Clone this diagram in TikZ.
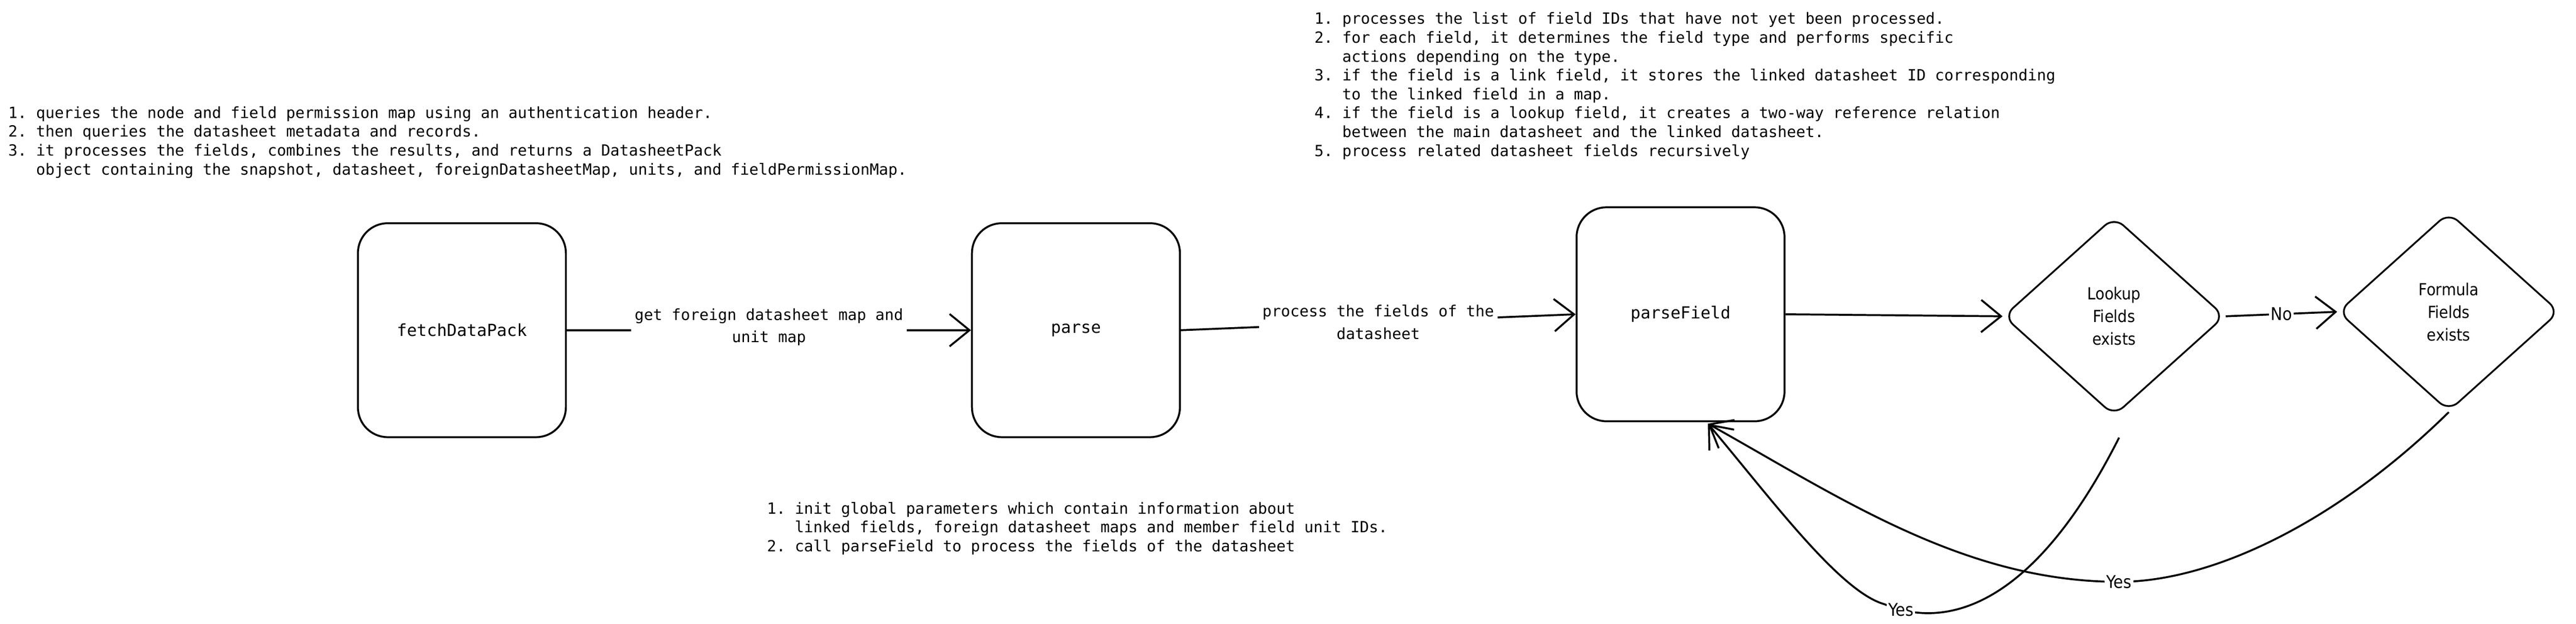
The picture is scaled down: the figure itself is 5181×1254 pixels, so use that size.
\documentclass[tikz,border=0pt]{standalone}
\usepackage{fontspec}
\setmonofont{DejaVu Sans Mono}
\newfontfamily\handfont{DejaVu Sans Condensed}
\usetikzlibrary{arrows.meta,shapes.geometric}
\begin{document}
\begin{tikzpicture}[x=0.01cm,y=-0.01cm,
  txt/.style={font=\ttfamily\fontsize{8.8}{10.8}\selectfont,align=left,anchor=north west,inner sep=0},
  box/.style={draw,line width=1.1pt,rounded corners=0.6cm,minimum width=4.18cm,minimum height=4.3cm,font=\ttfamily\fontsize{9.5}{11}\selectfont},
  dia/.style={draw,line width=1pt,diamond,rounded corners=0.25cm,shape aspect=0.55,minimum width=4.45cm,minimum height=4.0cm,inner sep=0,font=\handfont\fontsize{9.5}{13}\selectfont,align=center},
  conn/.style={line width=1.1pt,-{Straight Barb[length=0.4cm,width=0.65cm,line width=1.1pt]}},
  lbl/.style={font=\ttfamily\fontsize{8.8}{12.8}\selectfont,align=center,fill=white,inner sep=2pt},
  ylbl/.style={font=\handfont\fontsize{10}{12}\selectfont,fill=white,inner sep=1pt}]
\useasboundingbox (0,0) rectangle (5181,1254);
\node[txt] (t1) at (16,213) {1. queries the node and field permission map using an authentication header.\\2. then queries the datasheet metadata and records.\\3. it processes the fields, combines the results, and returns a DatasheetPack\\\phantom{3. }object containing the snapshot, datasheet, foreignDatasheetMap, units, and fieldPermissionMap.};
\node[txt] (t2) at (2643,24) {1. processes the list of field IDs that have not yet been processed.\\2. for each field, it determines the field type and performs specific\\\phantom{2. }actions depending on the type.\\3. if the field is a link field, it stores the linked datasheet ID corresponding\\\phantom{3. }to the linked field in a map.\\4. if the field is a lookup field, it creates a two-way reference relation\\\phantom{4. }between the main datasheet and the linked datasheet.\\5. process related datasheet fields recursively};
\node[txt] (t3) at (1542,1009) {1. init global parameters which contain information about\\\phantom{1. }linked fields, foreign datasheet maps and member field unit IDs.\\2. call parseField to process the fields of the datasheet};
\node[box] (fetch) at (929,664) {fetchDataPack};
\node[box] (parse) at (2164,664) {parse};
\node[box] (pf) at (3380,632) {parseField};
\node[dia] (look) at (4252,636) {Lookup\\Fields\\exists};
\node[dia] (form) at (4925,627) {Formula\\Fields\\exists};
\draw[conn] (fetch.east) -- node[lbl,yshift=0.06cm]{get foreign datasheet map and\\unit map} (parse.west);
\draw[conn] (parse.east) -- node[lbl]{process the fields of the\\datasheet} (pf.west);
\draw[conn] (pf.east) -- (look.west);
\draw[conn] (look.east) -- node[ylbl]{No} (form.west);
\coordinate (ls) at (4262,880);
\coordinate (pfb) at (3435,852);
\draw[conn] (ls) .. controls (4050,1300) and (3850,1240) .. node[ylbl,pos=0.86]{Yes} (3790,1215) .. controls (3700,1190) and (3560,1000) .. (pfb);
\draw[conn] (form.south) .. controls (4700,1050) and (4450,1170) .. (4262,1170) .. controls (3950,1170) and (3700,1000) .. (pfb);
\node[ylbl] (y2) at (4262,1170) {Yes};
\end{tikzpicture}
\end{document}
